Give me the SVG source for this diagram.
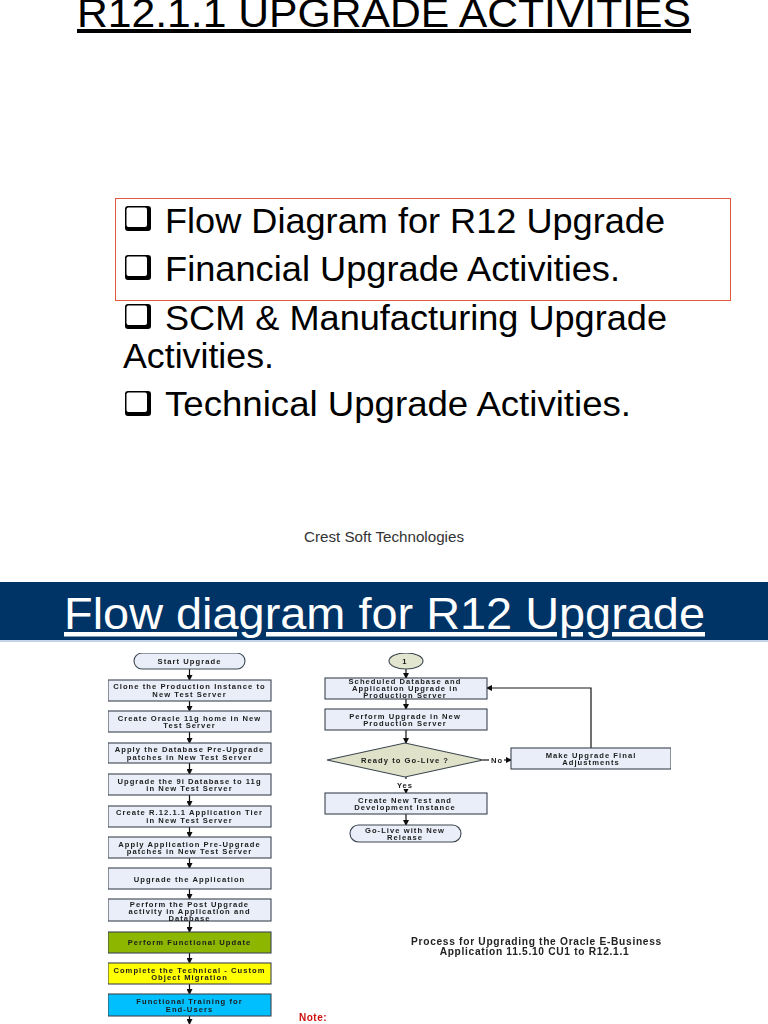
<svg xmlns="http://www.w3.org/2000/svg" width="768" height="1024" viewBox="0 0 768 1024">
<style>
text{font-family:"Liberation Sans",Arial,sans-serif}
.b{font-size:34.500px;fill:#000}
.n{fill:#e9eef8;stroke:#3c4650;stroke-width:1.1}
.t{font-size:7.600px;font-weight:700;fill:#1c1c1c;text-anchor:middle;letter-spacing:1.05px}
.c{stroke:#111;stroke-width:1.2;fill:none;marker-end:url(#a)}
.cap{font-size:10.200px;font-weight:700;fill:#222;text-anchor:middle;letter-spacing:.7px}
</style>
<defs>
<marker id="a" markerWidth="6" markerHeight="6" refX="5" refY="3" orient="auto" markerUnits="userSpaceOnUse"><path d="M0 0L6 3L0 6Z" fill="#111"/></marker>
<filter id="soft" x="0" y="0" width="1" height="1"><feGaussianBlur stdDeviation="0.35"/></filter>
<g id="box"><rect x="0" y="0" width="26" height="25" rx="3" fill="#000"/><rect x="1.500" y="1.500" width="20.500" height="19.500" rx="2" fill="#fff"/></g>
</defs>
<rect width="768" height="1024" fill="#fff"/>
<g id="slide-1">
<text x="77" y="27" font-size="40" textLength="614" lengthAdjust="spacingAndGlyphs" text-decoration="underline">R12.1.1 UPGRADE ACTIVITIES</text>
<rect x="115.500" y="198.500" width="615" height="102" fill="none" stroke="#e2583e" stroke-width="1"/>
<use href="#box" x="125" y="206"/><text class="b" x="165" y="232.500" textLength="500" lengthAdjust="spacingAndGlyphs">Flow Diagram for R12 Upgrade</text>
<use href="#box" x="125" y="255"/><text class="b" x="165" y="280.500" textLength="455" lengthAdjust="spacingAndGlyphs">Financial Upgrade Activities.</text>
<use href="#box" x="125" y="304"/><text class="b" x="165" y="329.500" textLength="502" lengthAdjust="spacingAndGlyphs">SCM &amp; Manufacturing Upgrade</text>
<text class="b" x="123" y="367.500" textLength="151" lengthAdjust="spacingAndGlyphs">Activities.</text>
<use href="#box" x="125" y="391"/><text class="b" x="165" y="415.500" textLength="466" lengthAdjust="spacingAndGlyphs">Technical Upgrade Activities.</text>
<text x="304" y="542" font-size="14" textLength="160" lengthAdjust="spacingAndGlyphs" fill="#333">Crest Soft Technologies</text>
</g>
<g id="slide-2-header">
<rect x="0" y="582" width="768" height="58" fill="#003366"/>
<rect x="0" y="640" width="768" height="2" fill="#c5d5ea"/>
<text x="64" y="629" font-size="45" fill="#fff" textLength="641" lengthAdjust="spacingAndGlyphs" text-decoration="underline">Flow diagram for R12 Upgrade</text>
</g>
<g id="flow" filter="url(#soft)">
<g id="connectors">
<path class="c" d="M189.500 669V680"/><path class="c" d="M189.500 701V711"/><path class="c" d="M189.500 732V743"/><path class="c" d="M189.500 763V774"/><path class="c" d="M189.500 795V806"/><path class="c" d="M189.500 827V837"/><path class="c" d="M189.500 858V868"/><path class="c" d="M189.500 889V899"/><path class="c" d="M189.500 921V932"/><path class="c" d="M189.500 953V963"/><path class="c" d="M189.500 984V994"/><path class="c" d="M189.500 1016V1024"/>
<path class="c" d="M406 669V678"/><path class="c" d="M406 699V709"/><path class="c" d="M406 730V743"/><path class="c" d="M406 777V793"/><path class="c" d="M406 814V825"/>
<path class="c" d="M483 760H511"/><path class="c" d="M591 748V688H487"/>
</g>
<g id="start"><rect class="n" x="134" y="653" width="111" height="16" rx="8"/><text class="t" x="189.500" y="663.500">Start Upgrade</text></g>
<g id="n1"><rect class="n" x="108" y="680" width="163" height="21"/><text class="t" x="189.500" y="689">Clone the Production Instance to</text><text class="t" x="189.500" y="696.500">New Test Server</text></g>
<g id="n2"><rect class="n" x="108" y="711" width="163" height="21"/><text class="t" x="189.500" y="720.500">Create Oracle 11g home in New</text><text class="t" x="189.500" y="728">Test Server</text></g>
<g id="n3"><rect class="n" x="108" y="743" width="163" height="20"/><text class="t" x="189.500" y="752">Apply the Database Pre-Upgrade</text><text class="t" x="189.500" y="759.500">patches in New Test Server</text></g>
<g id="n4"><rect class="n" x="108" y="774" width="163" height="21"/><text class="t" x="189.500" y="783.500">Upgrade the 9i Database to 11g</text><text class="t" x="189.500" y="791">in New Test Server</text></g>
<g id="n5"><rect class="n" x="108" y="806" width="163" height="21"/><text class="t" x="189.500" y="815">Create R.12.1.1 Application Tier</text><text class="t" x="189.500" y="822.500">in New Test Server</text></g>
<g id="n6"><rect class="n" x="108" y="837" width="163" height="21"/><text class="t" x="189.500" y="846.500">Apply Application Pre-Upgrade</text><text class="t" x="189.500" y="854">patches in New Test Server</text></g>
<g id="n7"><rect class="n" x="108" y="868" width="163" height="21"/><text class="t" x="189.500" y="881.500">Upgrade the Application</text></g>
<g id="n8"><rect class="n" x="108" y="899" width="163" height="22"/><text class="t" x="189.500" y="906.500">Perform the Post Upgrade</text><text class="t" x="189.500" y="913.500">activity in Application and</text><text class="t" x="189.500" y="920.500">Database</text></g>
<g id="n9"><rect class="n" style="fill:#8db600" x="108" y="932" width="163" height="21"/><text class="t" x="189.500" y="945">Perform Functional Update</text></g>
<g id="n10"><rect class="n" style="fill:#ffff00" x="108" y="963" width="163" height="21"/><text class="t" x="189.500" y="972.500">Complete the Technical - Custom</text><text class="t" x="189.500" y="980">Object Migration</text></g>
<g id="n11"><rect class="n" style="fill:#00bfff" x="108" y="994" width="163" height="22"/><text class="t" x="189.500" y="1004">Functional Training for</text><text class="t" x="189.500" y="1011.500">End-Users</text></g>
<g id="r0"><ellipse class="n" style="fill:#e3e6cf" cx="406" cy="661" rx="17" ry="8"/><text class="t" x="405" y="664">1</text></g>
<g id="r1"><rect class="n" x="325" y="678" width="162" height="21"/><text class="t" x="405" y="684">Scheduled Database and</text><text class="t" x="405" y="691">Application Upgrade in</text><text class="t" x="405" y="698">Production Server</text></g>
<g id="r2"><rect class="n" x="325" y="709" width="162" height="21"/><text class="t" x="405" y="718.500">Perform Upgrade in New</text><text class="t" x="405" y="726">Production Server</text></g>
<g id="r3"><polygon class="n" style="fill:#dfe2c8" points="327,760 405,743 483,760 405,777"/><text class="t" x="405" y="762.500">Ready to Go-Live ?</text></g>
<g id="r4"><rect class="n" x="511" y="748" width="160" height="21"/><text class="t" x="591" y="757.500">Make Upgrade Final</text><text class="t" x="591" y="765">Adjustments</text></g>
<g id="r5"><rect class="n" x="325" y="793" width="162" height="21"/><text class="t" x="405" y="802.500">Create New Test and</text><text class="t" x="405" y="810">Development Instance</text></g>
<g id="r6"><rect class="n" x="350" y="825" width="111" height="17" rx="8.500"/><text class="t" x="405" y="832.500">Go-Live with New</text><text class="t" x="405" y="839.500">Release</text></g>
<g id="labels"><rect x="489" y="755" width="15" height="9" fill="#fff"/><text class="t" x="497" y="762.500">No</text><rect x="396" y="779" width="18" height="10" fill="#fff"/><text class="t" x="405" y="788">Yes</text></g>
<g id="caption"><text class="cap" x="536.500" y="945">Process for Upgrading the Oracle E-Business</text><text class="cap" x="534.500" y="954.500">Application 11.5.10 CU1 to R12.1.1</text></g>
<g id="note"><text x="299" y="1021" font-size="10" font-weight="700" letter-spacing=".5" fill="#cc1111">Note:</text></g>
</g>
</svg>
